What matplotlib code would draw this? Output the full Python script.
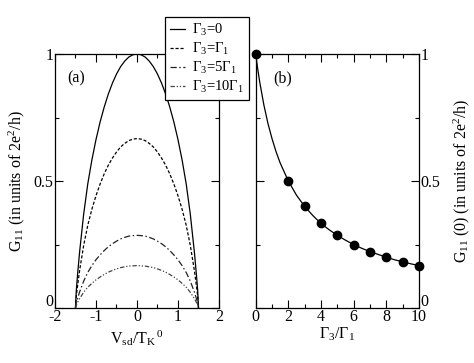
import matplotlib
matplotlib.use("Agg")
import matplotlib.pyplot as plt
import matplotlib.transforms as mtransforms
from matplotlib.ticker import MultipleLocator

plt.rcParams['font.family'] = ['Liberation Serif', 'DejaVu Serif']
plt.rcParams['mathtext.fontset'] = 'custom'
plt.rcParams['mathtext.rm'] = 'Liberation Serif'
plt.rcParams['mathtext.it'] = 'Liberation Serif:italic'
plt.rcParams['mathtext.bf'] = 'Liberation Serif:bold'

# ---- panel (a) data: G11 vs Vsd/TK0 ----
vsd = [-1.5, -1.48, -1.45, -1.4, -1.3, -1.2, -1.1, -1.0, -0.9, -0.8, -0.7, -0.6, -0.5, -0.4, -0.3, -0.2, -0.1,
       0.0, 0.1, 0.2, 0.3, 0.4, 0.5, 0.6, 0.7, 0.8, 0.9, 1.0, 1.1, 1.2, 1.3, 1.4, 1.45, 1.48, 1.5]
g_0 = [0.0, 0.07, 0.13, 0.22, 0.37, 0.489, 0.583, 0.663, 0.732, 0.791, 0.842, 0.885, 0.921, 0.950, 0.972, 0.988, 0.997,
       1.0, 0.997, 0.988, 0.972, 0.950, 0.921, 0.885, 0.842, 0.791, 0.732, 0.663, 0.583, 0.489, 0.37, 0.22, 0.13, 0.07, 0.0]
g_1 = [0.0, 0.047, 0.087, 0.147, 0.247, 0.326, 0.389, 0.442, 0.488, 0.528, 0.562, 0.590, 0.614, 0.634, 0.648, 0.659, 0.665,
       0.667, 0.665, 0.659, 0.648, 0.634, 0.614, 0.590, 0.562, 0.528, 0.488, 0.442, 0.389, 0.326, 0.247, 0.147, 0.087, 0.047, 0.0]
g_5 = [0.0, 0.020, 0.037, 0.063, 0.106, 0.140, 0.167, 0.190, 0.209, 0.226, 0.241, 0.253, 0.263, 0.272, 0.278, 0.283, 0.285,
       0.286, 0.285, 0.283, 0.278, 0.272, 0.263, 0.253, 0.241, 0.226, 0.209, 0.190, 0.167, 0.140, 0.106, 0.063, 0.037, 0.020, 0.0]
g_10 = [0.0, 0.012, 0.022, 0.037, 0.062, 0.082, 0.097, 0.111, 0.122, 0.132, 0.141, 0.148, 0.154, 0.159, 0.162, 0.165, 0.166,
        0.167, 0.166, 0.165, 0.162, 0.159, 0.154, 0.148, 0.141, 0.132, 0.122, 0.111, 0.097, 0.082, 0.062, 0.037, 0.022, 0.012, 0.0]
labels_a = [r'$\Gamma_3$=0', r'$\Gamma_3$=$\Gamma_1$', r'$\Gamma_3$=5$\Gamma_1$', r'$\Gamma_3$=10$\Gamma_1$']

# ---- panel (b) data: G11(0) vs Gamma3/Gamma1 ----
ratio_line = [0, 0.1, 0.25, 0.5, 0.75, 1, 1.25, 1.5, 2, 2.5, 3, 3.5, 4, 4.5, 5, 5.5, 6, 6.5, 7, 7.5, 8, 8.5, 9, 9.5, 10]
g0_line = [1.0, 0.952, 0.889, 0.8, 0.727, 0.667, 0.615, 0.571, 0.5, 0.444, 0.4, 0.364, 0.333, 0.308, 0.286,
           0.267, 0.25, 0.235, 0.222, 0.211, 0.2, 0.190, 0.182, 0.174, 0.167]
ratio_pts = [0, 2, 3, 4, 5, 6, 7, 8, 9, 10]
g0_pts = [1.0, 0.5, 0.4, 0.333, 0.286, 0.25, 0.222, 0.2, 0.182, 0.167]

fs = 11.5
fig = plt.figure(figsize=(4.74, 3.63), dpi=100)
axa = fig.add_axes([0.116, 0.1515, 0.346, 0.6997])
axb = fig.add_axes([0.5394, 0.1515, 0.3445, 0.6997])

lw = 0.9
la, = axa.plot(vsd, g_0, color='black', lw=lw, ls='-')
lb, = axa.plot(vsd, g_1, color='black', lw=lw, ls=(0, (2.5, 1.5)))
lc, = axa.plot(vsd, g_5, color='#222222', lw=lw, ls=(0, (5, 2, 1.2, 2)))
ld, = axa.plot(vsd, g_10, color='#444444', lw=lw, ls=(0, (3.5, 1.5, 1, 1.5, 1, 1.5)))

axa.set_xlim(-2, 2)
axa.set_ylim(0, 1)
axa.set_xticks([-2, -1, 0, 1, 2])
axa.set_xticklabels(['-2', '-1', '0', '1', '2'])
axa.xaxis.set_minor_locator(MultipleLocator(0.5))
axa.set_yticks([0, 0.5, 1])
axa.set_yticklabels(['0', '0.5', '1'])
axa.yaxis.set_minor_locator(MultipleLocator(0.25))
axa.tick_params(which='both', direction='in', top=True, right=True, labelsize=fs)
axa.tick_params(axis='x', pad=1)
axa.tick_params(axis='y', pad=1)
axa.tick_params(which='major', length=6, width=0.8)
axa.tick_params(which='minor', length=3, width=0.8)
axa.set_ylabel(r'G$_{11}$ (in units of 2e$^2$/h)', fontsize=fs, labelpad=5)
axa.set_xlabel(r'V$_{\rm sd}$/T$_{\rm K}$$^{\,0}$', fontsize=fs, labelpad=2)
axa.text(-1.7, 0.905, '(a)', fontsize=fs, va='center', ha='left')

axb.plot(ratio_line, g0_line, color='black', lw=lw)
axb.plot(ratio_pts, g0_pts, ls='none', marker='o', ms=6, color='black', clip_on=False, zorder=5)
axb.set_xlim(0, 10)
axb.set_ylim(0, 1)
axb.set_xticks([0, 2, 4, 6, 8, 10])
axb.xaxis.set_minor_locator(MultipleLocator(1))
axb.set_yticks([0, 0.5, 1])
axb.set_yticklabels(['0', '0.5', '1'])
axb.yaxis.set_minor_locator(MultipleLocator(0.25))
axb.yaxis.tick_right()
axb.yaxis.set_label_position('right')
axb.tick_params(which='both', direction='in', top=True, left=True, right=True, labelsize=fs)
axb.tick_params(axis='x', pad=1)
axb.tick_params(axis='y', pad=1)
axb.tick_params(which='major', length=6, width=0.8)
axb.tick_params(which='minor', length=3, width=0.8)
axb.set_ylabel(r'G$_{11}$ (0) (in units of 2e$^2$/h)', fontsize=fs, labelpad=8, rotation=90)
axb.set_xlabel(r'$\Gamma_3$/$\Gamma_1$', fontsize=fs, labelpad=0)
axb.text(1.06, 0.905, '(b)', fontsize=fs, va='center', ha='left')

# nudge the bottom "0" y-tick labels up a little so they do not collide with x labels
shift = mtransforms.ScaledTranslation(0, 5.5 / 72, fig.dpi_scale_trans)
for ax in (axa, axb):
    lab = ax.get_yticklabels()[0]
    lab.set_transform(lab.get_transform() + shift)
    for s in ax.spines.values():
        s.set_linewidth(0.9)

leg = fig.legend([la, lb, lc, ld], labels_a, loc='upper left',
                 bbox_to_anchor=(165 / 474, 1 - 17 / 363), fontsize=10.5,
                 frameon=True, fancybox=False, framealpha=1, edgecolor='black',
                 handlelength=1.0, handletextpad=0.5, borderpad=0.35, labelspacing=0.2,
                 borderaxespad=0)
leg.get_frame().set_linewidth(0.9)
leg.set_zorder(1)

fig.savefig('out.png', dpi=100)
